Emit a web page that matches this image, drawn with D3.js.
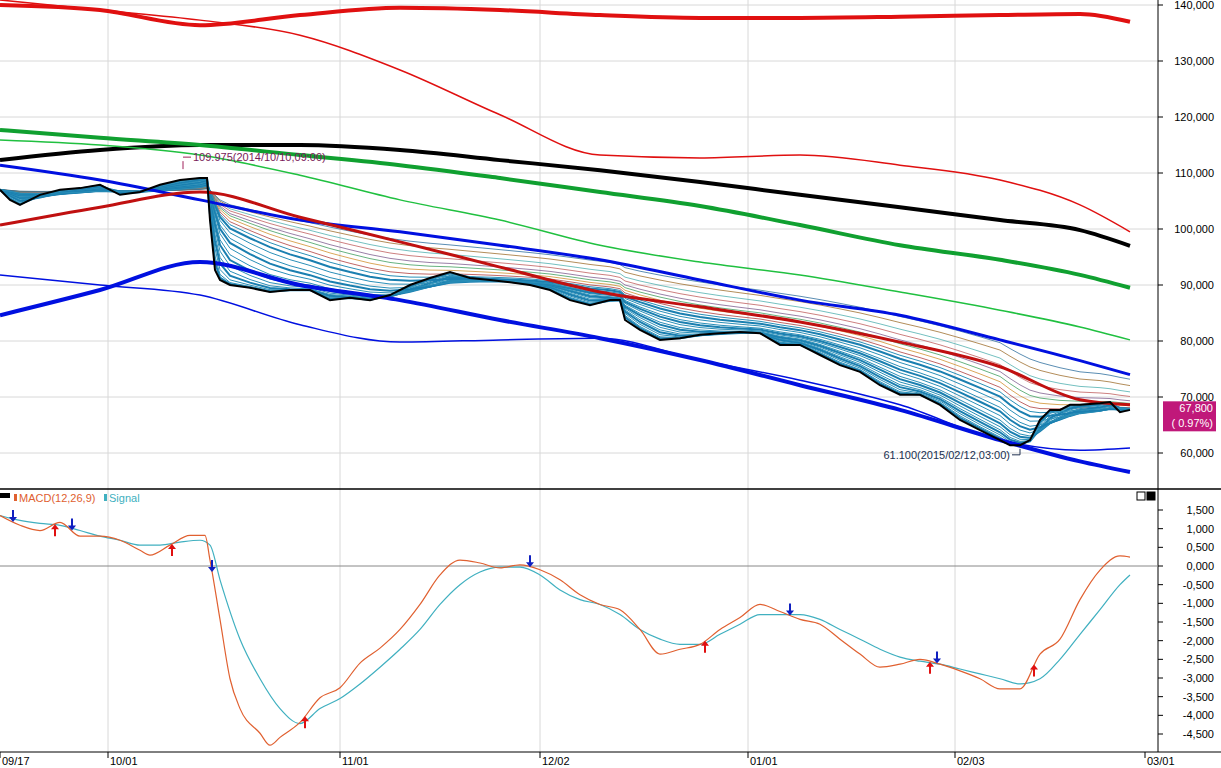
<!DOCTYPE html>
<html><head><meta charset="utf-8">
<script src="https://cdn.jsdelivr.net/npm/d3@7"></script>
<style>body{margin:0;background:#fff}svg{display:block;font-family:"Liberation Sans",sans-serif;font-size:11px}</style>
</head><body><svg id="c" width="1221" height="768"></svg>
<script>
// bar index (1 unit ~ 10 hourly bars), price in thousands
var priceIdx = [0,1,2,4,6,8,10,12,14,16,18,20,20.7,21,21.5,22,23,25,27,29,31,33,35,37,39,41,43,45,47,49,51,53,55,57,59,61,62,62.5,64,66,68,70,72,74,76,78,80,82,84,86,88,90,92,94,96,98,100,101,102,103,104,105,106,107,108,110,111,112,113];
var price = [107.0,105.2,104.3,106.1,107.0,107.3,107.9,106.1,106.6,107.9,108.75,109.1,109.1,101.6,92.7,90.9,90.0,89.5,88.75,89.1,89.1,87.3,87.7,87.3,88.2,90.0,91.25,92.3,91.25,90.9,90.5,90.0,89.1,87.3,86.4,87.3,87.3,83.75,82.0,80.2,80.5,81.1,81.4,81.6,81.4,79.3,79.3,77.5,75.7,74.5,72.1,70.4,70.4,68.6,65.9,64.1,62.3,61.4,61.4,62.3,65.9,67.7,67.7,68.6,68.6,68.9,69.1,67.3,67.7];

var maIdx = [0,10,20,30,40,50,60,70,80,90,100,108,113];
var redTop   = [140.0,139.1,136.4,138.2,139.5,139.1,138.2,137.7,137.7,137.9,138.2,138.4,137.0];
var redThin  = [140.9,139.1,137.3,134.6,128.4,120.4,113.2,112.7,113.2,111.4,108.75,104.3,99.5];
var blackMA  = [112.3,114.1,115.0,115.0,114.1,112.3,110.5,108.4,106.1,103.9,101.6,99.8,97.0];
var greenMA  = [117.7,116.3,115.0,113.2,111.4,109.1,106.6,104.1,100.7,97.1,94.5,91.8,89.5];
var greenThin= [115.9,115.0,113.2,109.6,105.2,101.6,97.1,94.1,91.8,88.75,85.5,82.5,80.2];
var blueUp   = [111.4,108.75,105.2,101.6,99.5,97.1,94.5,90.9,87.3,84.6,80.2,76.5,74.0];
var blueLow  = [91.8,90.0,88.2,82.9,79.8,80.2,80.5,76.6,73.0,68.6,62.3,60.5,60.9];
var blueLow2 = [84.6,89.1,94.1,90.0,87.3,83.75,80.5,76.6,72.1,67.7,62.3,58.5,56.6];
var redMid   = [100.7,103.9,106.6,102.1,97.7,93.2,88.75,86.1,83.4,79.8,75.4,69.5,68.6];

var macdIdx = [0,2,4,6,8,10,12,14,15,17,19,20.5,21,22,23,24,26,27,28,30,32,34,36,38,40,42,44,46,48,50,52,54,56,58,60,62,64,66,68,70,72,74,76,78,80,82,84,86,88,90,92,94,96,98,100,102,104,106,108,110,112,113];
var macd = [1.35,1.09,0.95,1.17,0.8,0.8,0.69,0.42,0.29,0.56,0.82,0.82,0.16,-1.43,-3.02,-3.82,-4.48,-4.8,-4.59,-4.19,-3.53,-3.26,-2.6,-2.2,-1.7,-1.03,-0.24,0.16,0.08,-0.05,0.03,-0.1,-0.37,-0.77,-1.03,-1.17,-1.7,-2.36,-2.23,-2.1,-1.7,-1.38,-1.03,-1.22,-1.43,-1.56,-1.96,-2.36,-2.71,-2.63,-2.5,-2.63,-2.81,-3.02,-3.29,-3.29,-2.36,-1.96,-0.9,-0.11,0.27,0.24];
var sigIdx = [0,2,4,6,8,10,12,14,16,18,20,21,22,24,26,28,30,32,34,36,38,40,42,44,46,48,50,52,54,56,58,60,62,64,66,68,70,72,74,76,78,80,82,84,86,88,90,92,94,96,98,100,102,104,106,108,110,112,113];
var signal = [1.35,1.22,1.14,1.09,0.95,0.8,0.69,0.56,0.56,0.64,0.69,0.56,-0.37,-1.96,-3.02,-3.82,-4.22,-3.82,-3.55,-3.16,-2.71,-2.23,-1.7,-1.03,-0.5,-0.16,-0.03,-0.03,-0.24,-0.64,-0.9,-1.03,-1.3,-1.7,-1.96,-2.1,-2.1,-1.83,-1.56,-1.3,-1.3,-1.3,-1.43,-1.7,-1.96,-2.23,-2.44,-2.55,-2.63,-2.76,-2.89,-3.02,-3.16,-3.02,-2.5,-1.83,-1.17,-0.5,-0.24];
var downSig = [1.3,7.2,21.2,53,79,93.7];
var upSig = [5.5,17.2,30.5,70.5,93,103.4];

var tickIdx = [0,10.8,34,54,74.8,95.5,114.5];
var tickLab = ["09/17","10/01","11/01","12/02","01/01","02/03","03/01"];
var priceTicks = [60,70,80,90,100,110,120,130,140];
var macdTicks = [1.5,1,0.5,0,-0.5,-1,-1.5,-2,-2.5,-3,-3.5,-4,-4.5];

var svg = d3.select("#c");
var W = 1158;
var x = d3.scaleLinear().domain([0,115.8]).range([0,W]);
var y = d3.scaleLinear().domain([60,140]).range([453,5]);
var ym = d3.scaleLinear().domain([0,1.5]).range([566,510]);

// grid
var g = svg.append("g");
tickIdx.slice(1,6).forEach(function(t){
  g.append("line").attr("x1",x(t)).attr("x2",x(t)).attr("y1",0).attr("y2",752).attr("stroke","#d8d8d8");
});
priceTicks.forEach(function(t){
  g.append("line").attr("x1",0).attr("x2",W).attr("y1",y(t)).attr("y2",y(t)).attr("stroke","#d8d8d8");
});

function pts(ix, vals){ return ix.map(function(d,i){return [d, vals[i]];}); }
var line = d3.line().x(function(d){return x(d[0]);}).y(function(d){return y(d[1]);}).curve(d3.curveMonotoneX);
var lineL = d3.line().x(function(d){return x(d[0]);}).y(function(d){return y(d[1]);});
function draw(ix, vals, col, w, gen){
  svg.append("path").datum(pts(ix,vals)).attr("d",(gen||line)).attr("fill","none").attr("stroke",col).attr("stroke-width",w);
}

// EMA fan computed from the price series
function ema(period, colors){
  var a = 2/(period+1), out=[], prev=price[0];
  price.forEach(function(p){ prev = prev + a*(p-prev); out.push(prev); });
  return out;
}
var fanCols = ["#b04040","#d09030","#40a060","#806090","#c06060","#50b0b0","#a07030","#3070a0"];
[14,16,18,20,23,26,30,34].forEach(function(p,i){ draw(priceIdx, ema(p), fanCols[i], 0.8, lineL); });
[1.3,1.6,2,2.5,3,3.6,4.3,5,6,7,8,9.5,11,12.5].forEach(function(p,i){
  draw(priceIdx, ema(p), i%3==0?"#1a7fb0":"#2a8fb8", i%3==0?2:1, lineL);
});

draw(maIdx, redTop, "#e01010", 4);
draw(maIdx, redThin, "#e01010", 1.5);
draw(maIdx, blackMA, "#000", 4);
draw(maIdx, greenMA, "#10a030", 4);
draw(maIdx, greenThin, "#20c040", 1.5);
draw(maIdx, blueUp, "#0010e0", 3);
draw(maIdx, blueLow, "#0010e0", 1.5);
draw(maIdx, blueLow2, "#0010e0", 4);
draw(maIdx, redMid, "#c01010", 3);
draw(priceIdx, price, "#000", 2, lineL);

// annotations
svg.append("path").attr("d","M"+x(18.3)+","+(y(109.975)-12)+"v8M"+x(18.3)+","+(y(109.975)-16)+"h8").attr("stroke","#a0205a").attr("fill","none");
svg.append("text").attr("x",x(18.3)+10).attr("y",y(109.975)-12).attr("fill","#7a1a5a").text("109.975(2014/10/10,09:00)");
svg.append("path").attr("d","M"+x(102)+","+(y(61.1)+2)+"v6h-8").attr("stroke","#203050").attr("fill","none");
svg.append("text").attr("x",x(102)-10).attr("y",y(61.1)+12).attr("text-anchor","end").attr("fill","#203050").text("61.100(2015/02/12,03:00)");

// right axis
svg.append("line").attr("x1",W).attr("x2",W).attr("y1",0).attr("y2",752).attr("stroke","#000");
var fmtP = function(v){ return d3.format(",.0f")(v*1000); };
priceTicks.forEach(function(t){
  svg.append("line").attr("x1",W).attr("x2",W+5).attr("y1",y(t)).attr("y2",y(t)).attr("stroke","#000");
  svg.append("text").attr("x",1214).attr("y",y(t)+4).attr("text-anchor","end").text(fmtP(t));
});
svg.append("rect").attr("x",1163).attr("y",y(67.8)-8).attr("width",53).attr("height",30).attr("fill","#c0187a");
svg.append("text").attr("x",1213).attr("y",y(67.8)+3).attr("text-anchor","end").attr("fill","#fff").text("67,800");
svg.append("text").attr("x",1213).attr("y",y(67.8)+18).attr("text-anchor","end").attr("fill","#fff").text("( 0.97%)");

// MACD panel
svg.append("line").attr("x1",0).attr("x2",1221).attr("y1",489).attr("y2",489).attr("stroke","#000").attr("stroke-width",1.5);
svg.append("line").attr("x1",0).attr("x2",W).attr("y1",ym(0)).attr("y2",ym(0)).attr("stroke","#888");
var fmtM = function(v){ var a=Math.round(Math.abs(v)*1000); return (v<0?"-":"")+Math.floor(a/1000)+","+d3.format("03d")(a%1000); };
macdTicks.forEach(function(t){
  svg.append("line").attr("x1",W).attr("x2",W+5).attr("y1",ym(t)).attr("y2",ym(t)).attr("stroke","#000");
  svg.append("text").attr("x",1214).attr("y",ym(t)+4).attr("text-anchor","end").text(fmtM(t));
});
var ml = d3.line().x(function(d){return x(d[0]);}).y(function(d){return ym(d[1]);}).curve(d3.curveMonotoneX);
svg.append("path").datum(pts(sigIdx,signal)).attr("d",ml).attr("fill","none").attr("stroke","#40b0c0").attr("stroke-width",1.2);
svg.append("path").datum(pts(macdIdx,macd)).attr("d",ml).attr("fill","none").attr("stroke","#e06030").attr("stroke-width",1.2);
var mInterp = d3.scaleLinear().domain(macdIdx).range(macd);
downSig.forEach(function(t){
  var yy = ym(mInterp(t));
  svg.append("path").attr("d","M"+x(t)+","+(yy-12)+"v8").attr("stroke","#1020c0").attr("stroke-width",2);
  svg.append("path").attr("d","M"+(x(t)-4)+","+(yy-5)+"h8l-4,5z").attr("fill","#1020c0");
});
upSig.forEach(function(t){
  var yy = ym(mInterp(t));
  svg.append("path").attr("d","M"+x(t)+","+(yy+4)+"v8").attr("stroke","#e01010").attr("stroke-width",2);
  svg.append("path").attr("d","M"+(x(t)-4)+","+(yy+5)+"h8l-4,-5z").attr("fill","#e01010");
});
svg.append("rect").attr("x",0).attr("y",493).attr("width",10).attr("height",5).attr("fill","#000");
svg.append("rect").attr("x",14).attr("y",494).attr("width",3).attr("height",7).attr("fill","#e06030");
svg.append("text").attr("x",19).attr("y",502).attr("fill","#e06030").text("MACD(12,26,9)");
svg.append("rect").attr("x",104).attr("y",494).attr("width",3).attr("height",7).attr("fill","#40b0c0");
svg.append("text").attr("x",109).attr("y",502).attr("fill","#40b0c0").text("Signal");
[1137,1147].forEach(function(bx,i){
  svg.append("rect").attr("x",bx).attr("y",492).attr("width",8).attr("height",8).attr("fill",i?"#000":"#fff").attr("stroke","#000");
});

// bottom axis
svg.append("line").attr("x1",0).attr("x2",1221).attr("y1",752).attr("y2",752).attr("stroke","#000");
tickIdx.forEach(function(t,i){
  svg.append("line").attr("x1",x(t)).attr("x2",x(t)).attr("y1",752).attr("y2",758).attr("stroke","#000");
  svg.append("text").attr("x",x(t)+2).attr("y",765).text(tickLab[i]);
});
</script></body></html>
